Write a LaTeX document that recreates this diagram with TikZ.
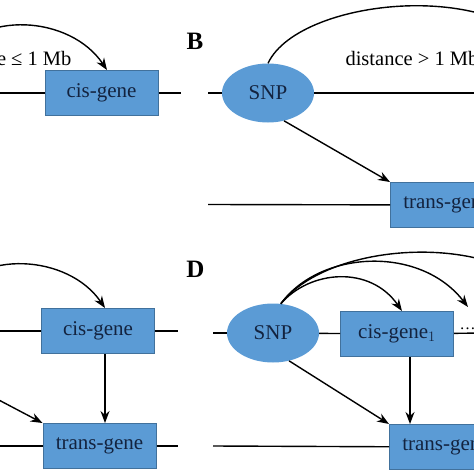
\documentclass[tikz,border=0pt]{standalone}
\usepackage{fontspec}
\setmainfont{Liberation Serif}
\usetikzlibrary{shapes.geometric, arrows.meta}

\definecolor{genefill}{HTML}{5B9BD5}
\definecolor{genedraw}{HTML}{41719C}
\definecolor{genetext}{HTML}{13233F}

\tikzset{
  gene/.style={rectangle, draw=genedraw, line width=1pt, fill=genefill, minimum width=113pt, minimum height=45pt, inner sep=0pt, text=genetext, font=\fontsize{21}{24}\selectfont},
  snp/.style={ellipse, fill=genefill, minimum width=92pt, minimum height=59pt, inner sep=0pt, text=genetext, font=\fontsize{21}{24}\selectfont},
  strand/.style={line width=1.4pt},
  link/.style={line width=1.4pt, -{Stealth[length=12pt, width=9pt]}},
  panel/.style={font=\fontsize{25}{30}\selectfont\bfseries},
  dist/.style={font=\fontsize{20.5}{24}\selectfont}
}

\begin{document}
\begin{tikzpicture}[x=1pt, y=-1pt]
        \useasboundingbox (0,0) rectangle (474,474);
        \clip (0,0) rectangle (474,474);

        % A
        \node[gene] (cisA) at (101.5,93) {cis-gene};
        \coordinate (lA) at (0,93);
        \coordinate (rA) at (181,93);
        \coordinate (snpA) at (-50,60);
        \draw[strand] (lA) -- (cisA);
        \draw[strand] (cisA) -- (rA);
        \draw[link] (snpA) .. controls (-20,10) and (70,15) .. ([xshift=5.5pt]cisA.north);
        \node[dist, anchor=base east] (dA) at (75,65) {e ≤ 1 Mb};

        % B
        \node[panel] (B) at (195,41.5) {B};
        \node[snp] (snpB) at (268,93) {SNP};
        \node[gene, anchor=north west] (transB) at (390,182) {trans-gene};
        \coordinate (lB) at (208,93);
        \coordinate (rB) at (484,93);
        \coordinate (lB2) at (208,204.5);
        \coordinate (farB) at (560,80);
        \draw[strand] (lB) -- (snpB);
        \draw[strand] (snpB) -- (rB);
        \draw[strand] (lB2) -- (transB);
        \draw[link] (snpB.north) .. controls (300,-5) and (520,-25) .. (farB);
        \draw[link] (snpB.-60) -- (transB.north west);
        \node[dist, anchor=base west] (dB) at (342,65) {distance > 1 Mb};

        % C
        \node[gene] (cisC) at (98,331) {cis-gene};
        \node[gene] (transC) at (99.5,446) {trans-gene};
        \coordinate (lC) at (0,331);
        \coordinate (rC) at (178,331);
        \coordinate (lC2) at (0,446);
        \coordinate (rC2) at (178,446);
        \coordinate (snpC) at (-52,299);
        \coordinate (snpC2) at (-60,369);
        \draw[strand] (lC) -- (cisC);
        \draw[strand] (cisC) -- (rC);
        \draw[strand] (lC2) -- (transC);
        \draw[strand] (transC) -- (rC2);
        \draw[link] (snpC) .. controls (-22,249) and (68,254) .. ([xshift=7pt]cisC.north);
        \draw[link] (snpC2) -- (transC.north west);
        \draw[link] ([xshift=7pt]cisC.south) -- ([xshift=7pt]cisC.south |- transC.north);

        % D
        \node[panel] (D) at (195.5,269.5) {D};
        \node[snp] (snpD) at (273,333) {SNP};
        \node[gene] (cisD) at (397,334) {cis-gene$_1$};
        \node[gene, anchor=north west] (transD) at (389,424) {trans-gene};
        \coordinate (lD) at (213,333);
        \coordinate (rD) at (484,333);
        \coordinate (lD2) at (213,446);
        \coordinate (cisD2) at (468,307);
        \coordinate (farD) at (560,310);
        \draw[strand] (lD) -- (snpD);
        \draw[strand] (snpD) -- (cisD);
        \draw[strand] (cisD) -- (rD);
        \node[anchor=base west, font=\fontsize{16}{18}\selectfont] (dots) at (456,329) {…};
        \draw[strand] (lD2) -- (transD);
        \draw[link] (snpD.75) .. controls (310,270) and (370,265) .. ([xshift=5pt]cisD.north);
        \draw[link] (snpD.75) .. controls (320,250) and (420,245) .. (cisD2);
        \draw[link] (snpD.75) .. controls (330,240) and (500,230) .. (farD);
        \draw[link] (snpD.-60) -- (transD.north west);
        \draw[link] ([xshift=13pt]cisD.south) -- ([xshift=13pt]cisD.south |- transD.north);
\end{tikzpicture}
\end{document}
